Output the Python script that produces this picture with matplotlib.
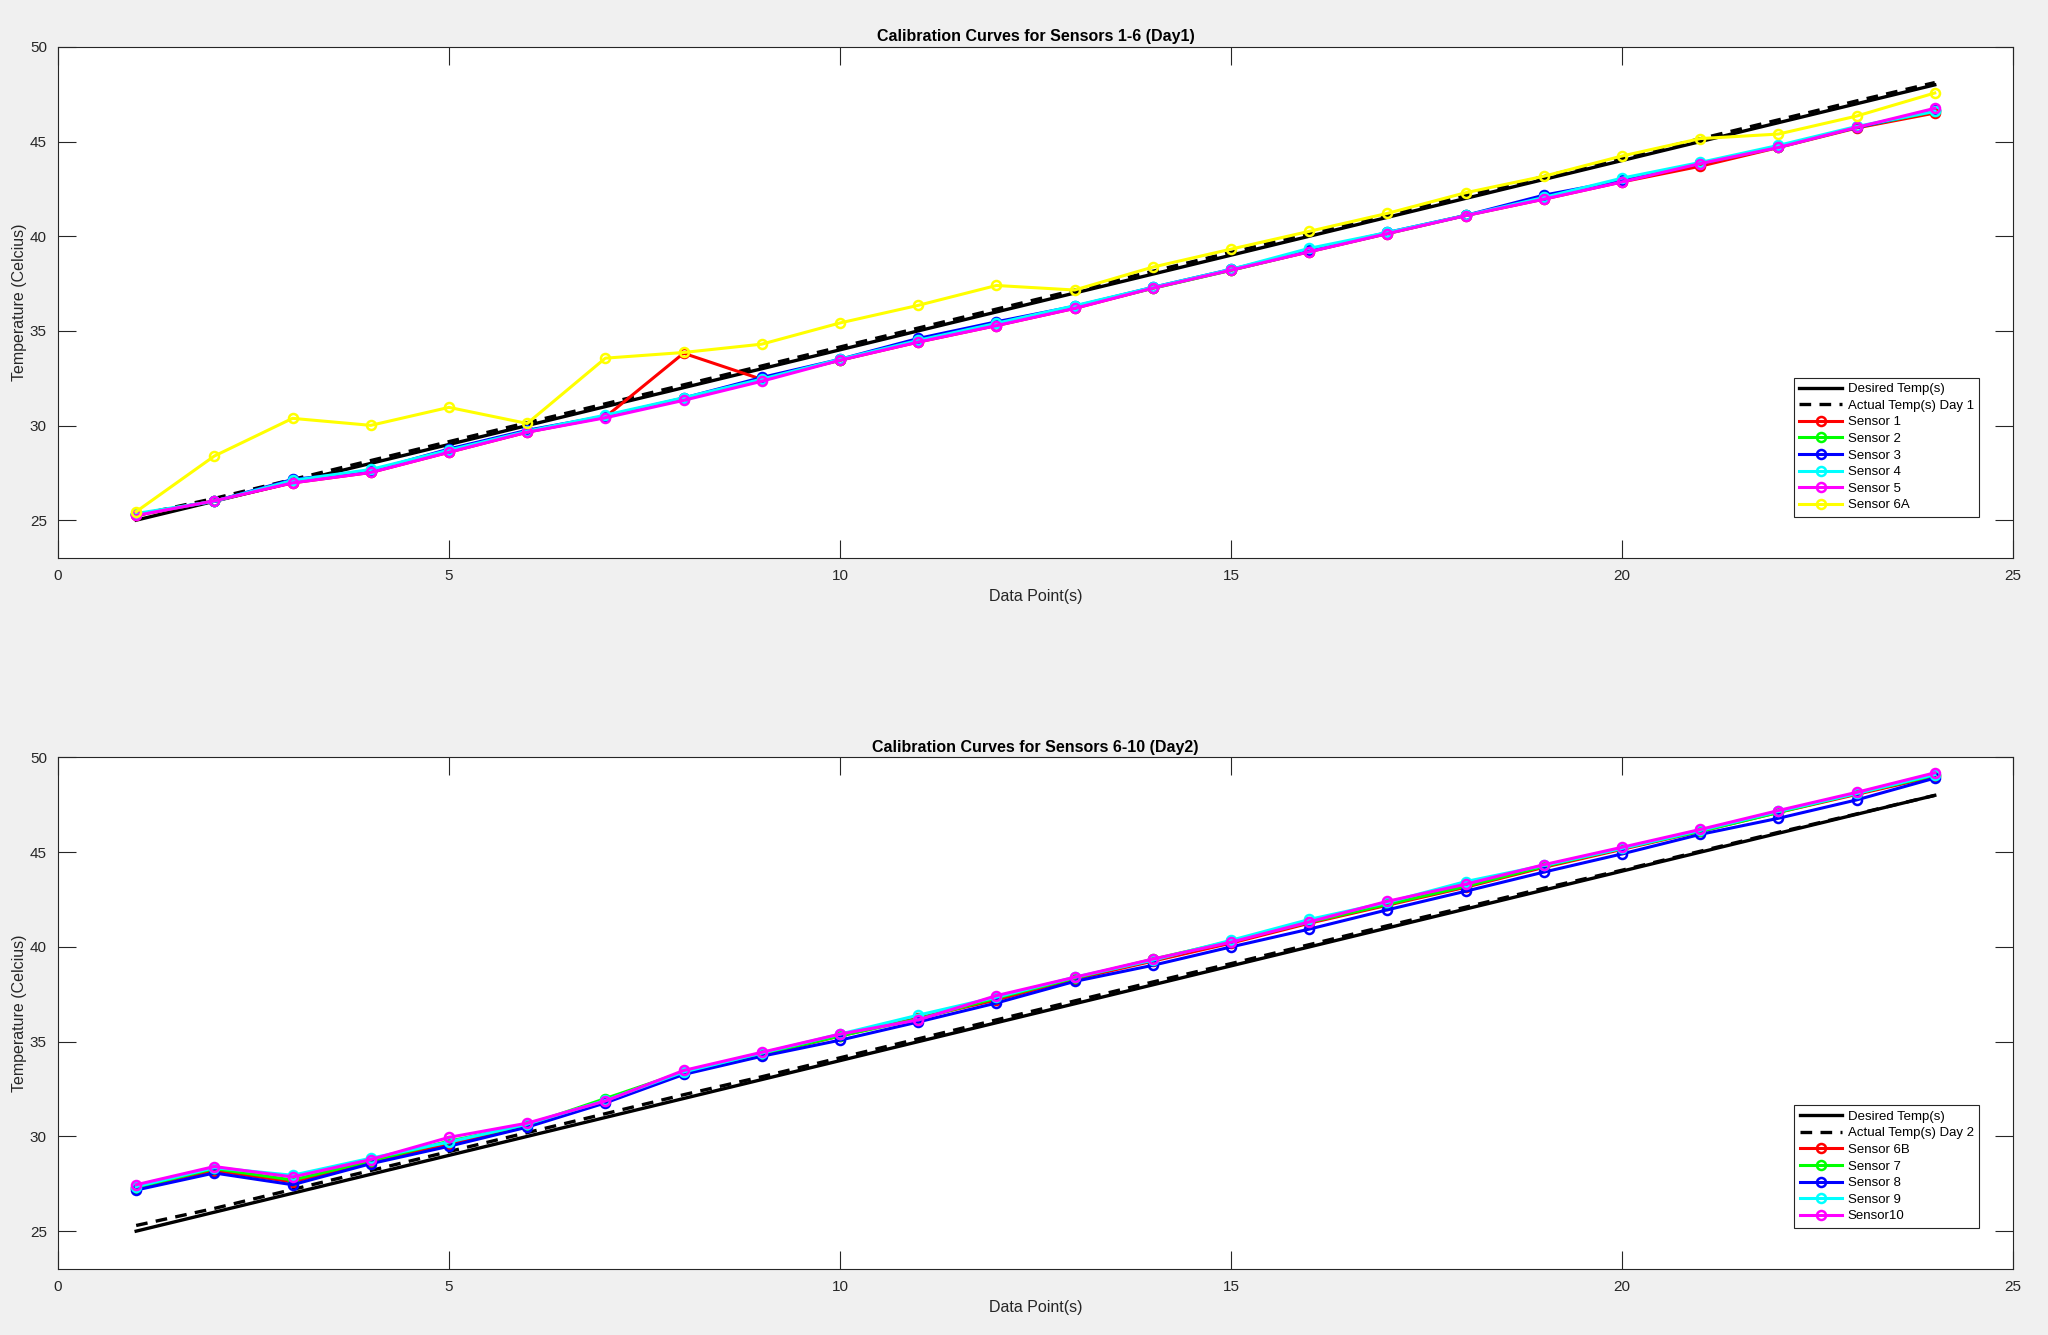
import matplotlib
matplotlib.use("Agg")
import matplotlib.pyplot as plt

points = [1, 2, 3, 4, 5, 6, 7, 8, 9, 10, 11, 12, 13, 14, 15, 16, 17, 18, 19, 20, 21, 22, 23, 24]
desired = [25, 26, 27, 28, 29, 30, 31, 32, 33, 34, 35, 36, 37, 38, 39, 40, 41, 42, 43, 44, 45, 46, 47, 48]

# Day 1
actual_day1 = [25.25, 26.15, 27.15, 28.15, 29.15, 30.15, 31.15, 32.15, 33.15, 34.15, 35.15, 36.15,
               37.15, 38.15, 39.15, 40.15, 41.15, 42.15, 43.15, 44.15, 45.15, 46.15, 47.15, 48.12]
sensor1 = [25.25, 26.02, 26.97, 27.52, 28.59, 29.65, 30.45, 33.82, 32.44, 33.45, 34.41, 35.28,
           36.19, 37.26, 38.21, 39.18, 40.14, 41.09, 41.96, 42.87, 43.70, 44.69, 45.72, 46.51]
sensor2 = [25.30, 26.00, 27.10, 27.60, 28.70, 29.70, 30.50, 31.40, 32.45, 33.45, 34.50, 35.40,
           36.25, 37.25, 38.20, 39.20, 40.15, 41.10, 42.00, 42.95, 43.85, 44.70, 45.75, 46.60]
sensor3 = [25.30, 26.00, 27.15, 27.60, 28.76, 29.75, 30.50, 31.45, 32.54, 33.50, 34.60, 35.48,
           36.30, 37.30, 38.25, 39.25, 40.20, 41.10, 42.17, 42.95, 43.85, 44.75, 45.75, 46.65]
sensor4 = [25.35, 26.00, 27.10, 27.68, 28.70, 29.70, 30.55, 31.47, 32.45, 33.50, 34.50, 35.40,
           36.33, 37.30, 38.25, 39.36, 40.20, 41.10, 42.05, 43.07, 43.90, 44.80, 45.80, 46.60]
sensor5 = [25.25, 26.02, 26.97, 27.52, 28.59, 29.65, 30.41, 31.33, 32.34, 33.45, 34.41, 35.28,
           36.19, 37.26, 38.21, 39.18, 40.14, 41.09, 41.96, 42.87, 43.84, 44.69, 45.75, 46.76]
sensor6a = [25.45, 28.39, 30.38, 30.01, 30.96, 30.11, 33.56, 33.86, 34.30, 35.42, 36.35, 37.40,
            37.16, 38.37, 39.32, 40.26, 41.21, 42.30, 43.17, 44.24, 45.16, 45.40, 46.35, 47.57]

# Day 2
actual_day2 = [25.30, 26.20, 27.20, 28.20, 29.20, 30.20, 31.20, 32.20, 33.15, 34.15, 35.15, 36.15,
               37.15, 38.15, 39.12, 40.12, 41.12, 42.10, 43.10, 44.05, 45.05, 46.05, 47.02, 48.00]
sensor6b = [27.30, 28.20, 27.60, 28.65, 29.60, 30.60, 31.85, 33.35, 34.30, 35.30, 36.25, 37.20,
            38.30, 39.25, 40.20, 41.25, 42.20, 43.15, 44.20, 45.15, 46.10, 47.10, 48.05, 49.00]
sensor7 = [27.30, 28.30, 27.70, 28.70, 29.75, 30.60, 32.00, 33.40, 34.35, 35.30, 36.20, 37.30,
           38.35, 39.35, 40.30, 41.30, 42.25, 43.20, 44.25, 45.20, 46.10, 47.10, 48.10, 49.05]
sensor8 = [27.17, 28.07, 27.45, 28.56, 29.48, 30.49, 31.77, 33.27, 34.23, 35.08, 36.04, 37.04,
           38.18, 39.03, 40.00, 40.94, 41.96, 42.94, 43.95, 44.91, 45.94, 46.79, 47.76, 48.91]
sensor9 = [27.35, 28.35, 27.95, 28.85, 29.70, 30.65, 31.90, 33.40, 34.40, 35.40, 36.40, 37.35,
           38.40, 39.30, 40.35, 41.45, 42.35, 43.45, 44.30, 45.20, 46.15, 47.15, 48.10, 49.10]
sensor10 = [27.45, 28.41, 27.86, 28.78, 29.95, 30.70, 31.87, 33.48, 34.44, 35.40, 36.15, 37.43,
            38.40, 39.36, 40.25, 41.32, 42.41, 43.31, 44.34, 45.26, 46.20, 47.20, 48.16, 49.19]

colors = ["#ff0000", "#00ff00", "#0000ff", "#00ffff", "#ff00ff", "#ffff00"]

plt.rcParams["font.family"] = ["Liberation Sans", "DejaVu Sans"]

fig = plt.figure(figsize=(20.48, 13.35), dpi=100, facecolor="#f0f0f0")
ax1 = fig.add_axes([0.0283, 0.582, 0.9546, 0.3828])
ax2 = fig.add_axes([0.0283, 0.0494, 0.9546, 0.3832])


def draw_panel(ax, actual, actual_label, sensors, labels, title):
    ax.plot(points, desired, color="black", lw=2.4, label="Desired Temp(s)")
    ax.plot(points, actual, color="black", lw=2.4, ls=(0, (3.5, 2.5)), label=actual_label)
    for vals, lab, c in zip(sensors, labels, colors):
        ax.plot(points, vals, color=c, lw=2.2, marker="o", ms=6.5,
                markerfacecolor="none", markeredgewidth=1.8, label=lab)
    ax.set_xlim(0, 25)
    ax.set_ylim(23, 50)
    ax.set_xticks([0, 5, 10, 15, 20, 25])
    ax.set_yticks([25, 30, 35, 40, 45, 50])
    ax.tick_params(direction="in", length=13, width=0.8, top=True, right=True,
                   labelsize=11, colors="#262626", pad=8)
    for sp in ax.spines.values():
        sp.set_color("#262626")
        sp.set_linewidth(0.8)
    ax.set_title(title, fontsize=11.5, fontweight="bold", pad=4)
    ax.set_xlabel("Data Point(s)", fontsize=11.5, color="#262626", labelpad=4)
    ax.set_ylabel("Temperature (Celcius)", fontsize=11.5, color="#262626", labelpad=2)
    leg = ax.legend(loc="lower right", bbox_to_anchor=(0.986, 0.068), fontsize=9.5,
                    fancybox=False, framealpha=1, edgecolor="#262626", handlelength=3.2,
                    borderpad=0.4, labelspacing=0.33, handletextpad=0.45)
    leg.get_frame().set_linewidth(0.8)


draw_panel(ax1, actual_day1, "Actual Temp(s) Day 1",
           [sensor1, sensor2, sensor3, sensor4, sensor5, sensor6a],
           ["Sensor 1", "Sensor 2", "Sensor 3", "Sensor 4", "Sensor 5", "Sensor 6A"],
           "Calibration Curves for Sensors 1-6 (Day1)")
draw_panel(ax2, actual_day2, "Actual Temp(s) Day 2",
           [sensor6b, sensor7, sensor8, sensor9, sensor10],
           ["Sensor 6B", "Sensor 7", "Sensor 8", "Sensor 9", "Sensor10"],
           "Calibration Curves for Sensors 6-10 (Day2)")

fig.savefig("out.png", dpi=100, facecolor=fig.get_facecolor())
